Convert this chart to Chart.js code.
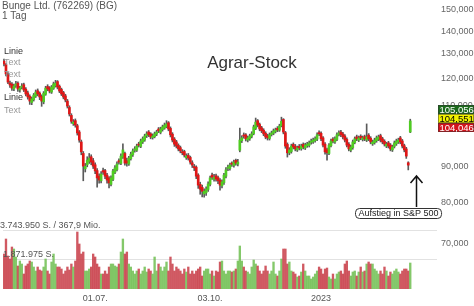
<!DOCTYPE html>
<html>
<head>
<meta charset="utf-8">
<title>Agrar-Stock</title>
<script src="https://cdn.jsdelivr.net/npm/chart.js@4/dist/chart.umd.min.js"></script>
<style>
  html, body { margin: 0; padding: 0; background: #fff; }
  #wrap { width: 474px; height: 306px; position: relative; }
</style>
</head>
<body>
<div id="wrap"><canvas id="chart" width="474" height="306"></canvas></div>
<script>
// daily candles, Bunge Ltd. (BG)
const opens = [
  127.0,125.5,121.5,118.2,117.8,116.0,117.3,118.2,115.6,116.6,
  117.6,115.9,114.5,113.2,111.0,112.0,113.3,115.3,114.4,113.2,
  111.2,114.0,116.9,116.4,114.8,116.2,117.2,118.8,117.0,115.8,
  114.6,113.4,111.5,109.2,106.4,103.6,104.6,102.9,100.8,97.6,
  94.0,89.4,90.6,91.6,93.0,91.8,90.6,88.9,87.3,86.0,
  88.9,88.9,87.6,86.8,85.0,86.4,88.4,89.2,91.8,91.0,
  92.9,94.0,91.8,90.8,92.4,93.6,95.0,95.0,96.9,96.2,
  97.6,98.2,99.6,100.8,100.2,99.0,99.3,100.1,101.8,100.7,
  101.6,102.1,102.6,103.9,102.0,100.1,98.5,97.6,96.5,95.8,
  94.5,94.6,92.7,93.4,92.8,91.2,90.1,89.9,87.6,85.0,
  84.2,82.4,82.7,83.6,85.0,87.6,86.4,87.4,86.9,86.1,
  84.6,85.5,87.3,89.6,89.5,90.9,90.4,91.9,90.8,95.0,
  98.0,99.8,99.9,98.2,98.6,99.4,100.3,102.0,104.6,103.3,
  102.2,101.4,100.4,99.6,98.7,100.0,100.4,101.0,102.0,101.4,
  102.9,105.0,100.6,96.8,94.2,94.6,96.8,96.2,95.1,96.2,
  95.5,96.8,95.7,96.4,96.5,97.5,97.6,98.0,98.5,100.6,
  100.4,98.9,96.9,95.2,94.0,96.4,98.5,97.6,98.4,100.0,
  100.8,100.2,99.5,98.4,96.9,95.0,95.8,97.4,99.2,98.2,
  99.4,98.4,99.3,98.2,99.8,98.8,97.0,97.4,98.0,98.5,
  99.6,98.6,97.8,96.3,97.3,96.6,95.1,96.2,97.0,97.6,
  98.9,97.9,96.4,95.4,91.2,100.8
];
const highs = [
  127.8,126.0,122.3,119.0,118.4,117.8,118.9,118.7,117.0,118.0,
  118.2,116.5,115.2,113.8,113.0,114.3,115.6,116.0,114.9,113.8,
  115.0,117.0,117.6,116.9,117.3,118.6,119.3,119.2,117.5,116.3,
  115.1,114.0,112.1,109.8,107.0,105.0,105.2,103.4,101.3,98.2,
  94.6,91.0,93.0,94.0,93.6,92.5,91.2,89.5,88.0,88.6,
  89.6,89.3,88.1,87.2,87.4,89.3,90.4,91.5,92.4,93.9,
  97.0,94.4,92.6,93.1,94.4,95.4,96.1,96.9,97.5,98.5,
  99.2,100.1,100.9,101.3,100.6,100.2,100.8,101.4,102.3,102.4,
  103.1,103.8,104.6,104.3,102.5,100.6,99.0,98.1,97.0,96.3,
  95.2,95.0,93.9,94.0,93.2,91.8,90.7,90.3,88.0,85.6,
  84.8,83.8,84.3,85.7,87.3,88.2,87.8,87.9,87.3,86.6,
  86.3,88.1,89.8,90.5,91.1,91.5,92.0,92.3,92.2,102.1,
  99.6,100.5,100.3,99.5,100.1,100.9,103.1,105.5,105.0,103.8,
  102.7,101.9,100.9,100.1,100.5,101.1,101.8,102.1,102.6,103.4,
  105.8,105.3,101.0,97.3,95.8,96.9,97.3,96.8,96.3,96.8,
  96.9,97.3,97.2,97.5,97.9,98.5,98.8,99.2,100.5,101.2,
  100.9,99.3,97.4,95.7,97.1,98.5,99.0,99.2,100.5,101.2,
  101.4,100.7,100.0,98.9,97.4,96.6,98.2,99.2,99.8,99.5,
  99.9,99.5,99.8,103.5,100.3,99.3,98.2,98.8,99.5,99.8,
  100.1,99.1,98.3,97.5,97.8,97.1,96.6,97.9,98.5,98.8,
  99.4,98.4,96.9,95.9,91.5,105.1
];
const lows = [
  125.0,121.0,118.0,116.6,115.4,115.3,116.6,115.1,114.8,116.0,
  115.0,113.4,112.2,110.3,110.2,111.5,112.8,113.4,112.0,109.6,
  110.5,113.6,115.3,114.5,114.3,115.8,116.7,116.0,114.6,113.5,
  112.3,111.2,109.0,106.2,103.7,103.0,102.4,99.8,97.5,93.6,
  86.0,88.5,90.0,91.0,90.6,89.5,88.0,84.2,85.3,85.4,
  87.8,86.6,85.3,84.0,84.6,86.0,88.0,88.8,90.8,90.6,
  92.5,90.5,90.2,90.4,92.0,93.1,94.4,94.6,96.0,95.8,
  97.1,97.8,99.0,99.3,98.6,98.5,98.9,99.6,100.6,100.2,
  101.1,101.7,102.2,101.2,99.2,97.6,96.2,95.7,94.8,94.2,
  93.6,92.9,92.2,92.0,90.8,89.8,88.9,86.6,83.9,82.3,
  81.6,81.5,82.0,83.1,84.6,86.4,85.9,85.9,85.2,83.4,
  84.0,85.0,86.8,88.9,89.0,90.1,89.9,90.5,90.3,94.5,
  97.4,98.8,97.9,97.6,98.1,98.9,99.9,101.6,102.5,101.2,
  100.6,99.6,98.6,98.2,98.2,99.5,99.9,100.5,100.9,101.0,
  102.5,100.2,95.6,92.9,93.6,94.1,95.4,94.8,94.6,95.1,
  95.0,95.4,95.2,95.9,96.0,96.9,97.1,97.5,98.0,99.6,
  98.0,96.0,93.8,92.0,93.6,96.0,97.3,97.1,98.0,99.5,
  99.3,98.6,97.6,96.0,94.8,94.5,95.3,97.0,98.0,97.7,
  98.3,97.9,98.0,97.7,98.0,97.0,96.5,96.9,97.5,98.0,
  97.6,97.0,96.3,95.8,95.7,94.8,94.6,95.7,96.5,97.1,
  97.0,95.7,94.5,92.5,89.1,100.6
];
const closes = [
  125.8,121.8,118.6,117.5,116.3,117.1,117.9,116.0,116.3,117.1,
  115.6,114.1,113.0,111.5,112.3,113.7,114.8,114.1,113.0,111.5,
  114.4,116.3,116.0,115.2,116.7,117.9,118.2,116.7,115.2,114.1,
  113.0,111.9,109.7,106.9,104.4,104.1,103.1,100.5,98.2,94.5,
  90.2,90.2,92.0,92.6,91.4,90.2,88.8,86.8,86.2,87.9,
  88.5,87.3,86.2,85.4,86.8,88.8,89.7,90.8,91.4,93.2,
  95.1,91.1,91.1,92.6,93.8,94.8,95.4,96.3,96.6,97.9,
  98.6,99.5,100.2,99.9,99.2,99.5,100.2,100.8,101.2,101.8,
  102.5,103.1,103.5,101.8,99.9,98.2,96.9,96.3,95.4,94.8,
  94.2,93.5,93.2,92.6,91.4,90.5,89.7,87.3,84.8,83.7,
  83.1,83.1,83.7,85.1,86.8,87.0,87.0,86.5,86.0,84.8,
  85.7,87.6,89.1,89.9,90.5,90.8,91.4,91.1,91.4,98.2,
  98.9,99.5,98.6,98.9,99.5,100.2,102.5,104.1,103.1,101.8,
  101.2,100.2,99.2,98.9,99.9,100.5,101.2,101.5,101.5,102.8,
  104.4,100.8,96.3,94.2,95.1,96.3,96.0,95.4,95.7,95.7,
  96.3,96.0,96.6,96.9,97.3,97.9,98.2,98.6,99.9,100.2,
  98.6,96.6,94.5,94.2,96.6,97.9,97.9,98.6,99.9,100.5,
  99.9,99.2,98.2,96.6,95.4,96.0,97.6,98.6,98.6,98.9,
  98.9,98.9,98.6,99.2,98.6,97.6,97.6,98.2,98.9,99.2,
  98.2,97.6,96.9,96.9,96.3,95.4,96.0,97.3,97.9,98.2,
  97.6,96.3,95.1,93.2,90.5,104.5
];
// volume in thousand shares
const volumes = [
  2259,3228,2130,1937,2711,2582,2066,1485,1807,1614,
  968,1485,1614,1807,1743,1420,1162,1420,1226,1162,
  1420,1937,1162,968,1743,2259,1614,1420,1420,1291,
  968,1162,1420,1226,1614,1420,1807,3679,2905,2259,
  2388,1162,1162,1291,1420,2259,2066,1614,1420,968,
  968,1162,968,1420,1614,1614,1485,1420,1614,2388,
  3228,2259,2388,1614,1420,1162,968,1162,1291,968,
  1162,1420,1097,1291,1162,968,2066,1162,1614,1420,
  1162,1420,1743,1162,2066,1614,1162,1420,1291,1162,
  968,1291,1097,1420,968,1162,968,1162,1291,1420,
  839,1162,1291,1291,968,1162,839,1162,1097,1743,
  1807,1162,968,1162,1162,1097,1162,1291,1807,2776,
  1807,1420,1162,1097,968,1420,1872,1614,1485,1162,
  968,1162,1485,1162,968,1162,1743,968,839,1162,
  1937,2582,2582,1614,1743,1162,1097,968,775,839,
  1097,1614,1162,839,839,646,775,968,1162,1420,
  1291,968,1291,1356,775,646,968,646,968,1097,
  1162,968,1614,1807,1162,839,1097,1162,839,1097,
  1420,1097,1162,1614,1743,1614,1614,1291,1162,968,
  1162,968,1420,1162,839,1097,968,1162,1291,1097,
  968,1162,1291,1291,1162,1678
];

const priceTicks = [70, 80, 90, 110, 120, 130, 140, 150];
const volumeTicks = [1871.975, 3743.95];
const volumeTickText = ['1.871.975 S.', '3.743.950 S. / 367,9 Mio.'];
const xTickIndex = [46, 104, 160];
const xTickText = ['01.07.', '03.10.', '2023'];
const quoteText = ['105,056', '104,551', '104,046'];
const slotCount = 219;

const FONT = '"Liberation Sans", Arial, sans-serif';
const days = Array.from({ length: slotCount }, (_, i) => i);
const isUp = closes.map((c, i) => c >= opens[i]);

const overlay = {
  id: 'overlay',
  afterDraw(chart) {
    const ctx = chart.ctx;
    const xs = chart.scales.x;
    const yv = chart.scales.yv;
    ctx.save();

    ctx.fillStyle = '#555';
    ctx.font = '10px ' + FONT;
    ctx.textBaseline = 'top';
    ctx.textAlign = 'left';
    ctx.fillText('Bunge Ltd. (762269) (BG)', 2, 1);
    ctx.fillText('1 Tag', 2, 11);

    // legend leftovers at the left edge
    ctx.font = '9px ' + FONT;
    ctx.textBaseline = 'middle';
    [['Linie', 52, '#333'], ['Text', 63, '#999'], ['Text', 75, '#999'],
     ['Linie', 98, '#333'], ['Text', 111, '#999']].forEach(([t, y, c]) => {
      ctx.fillStyle = c;
      ctx.fillText(t, 4, y);
    });

    ctx.fillStyle = '#333';
    ctx.font = '17px ' + FONT;
    ctx.textAlign = 'center';
    ctx.fillText('Agrar-Stock', 252, 63);

    // volume grid labels
    ctx.font = '9px ' + FONT;
    ctx.textAlign = 'left';
    ctx.textBaseline = 'bottom';
    ctx.fillStyle = '#555';
    volumeTicks.forEach((v, i) => {
      ctx.fillText(volumeTickText[i], i === 0 ? 3 : 0, yv.getPixelForValue(v) - 1);
    });

    // quote boxes on the price axis
    const boxX = chart.chartArea.right + 1;
    const boxW = chart.width - boxX;
    const fills = ['#1d6b1d', '#f2f200', '#d3141c'];
    const inks = ['#fff', '#000', '#fff'];
    ctx.font = '9.5px ' + FONT;
    ctx.textBaseline = 'middle';
    quoteText.forEach((t, i) => {
      const top = 105 + i * 9;
      ctx.fillStyle = fills[i];
      ctx.fillRect(boxX, top, boxW, 9);
      ctx.strokeStyle = '#333';
      ctx.lineWidth = 0.5;
      ctx.strokeRect(boxX + 0.5, top + 0.5, boxW - 1, 8);
      ctx.fillStyle = inks[i];
      ctx.fillText(t, boxX + 1.5, top + 5);
    });

    // S&P 500 arrow and label
    const ax = Math.round(xs.getPixelForValue(closes.length - 1)) + 6.5;
    ctx.strokeStyle = '#111';
    ctx.lineWidth = 1.5;
    ctx.beginPath();
    ctx.moveTo(ax, 207);
    ctx.lineTo(ax, 176);
    ctx.moveTo(ax - 6, 183);
    ctx.lineTo(ax, 176);
    ctx.lineTo(ax + 6, 183);
    ctx.stroke();

    const label = 'Aufstieg in S&P 500';
    ctx.font = '9px ' + FONT;
    const lw = ctx.measureText(label).width + 6;
    const lx = 355, ly = 208, lh = 10;
    ctx.fillStyle = '#fff';
    ctx.strokeStyle = '#333';
    ctx.lineWidth = 1;
    ctx.beginPath();
    ctx.roundRect(lx + 0.5, ly + 0.5, lw, lh, 4);
    ctx.fill();
    ctx.stroke();
    ctx.fillStyle = '#222';
    ctx.textAlign = 'center';
    ctx.textBaseline = 'middle';
    ctx.fillText(label, lx + 0.5 + lw / 2, ly + lh / 2 + 1);

    ctx.restore();
  }
};

new Chart(document.getElementById('chart'), {
  type: 'bar',
  data: {
    labels: days,
    datasets: [
      {
        label: 'Kurs',
        data: opens.map((o, i) => [o, closes[i]]),
        yAxisID: 'y',
        grouped: false,
        order: 0,
        barThickness: 2,
        minBarLength: 1,
        backgroundColor: isUp.map(u => u ? '#4fcc22' : '#e01616'),
        borderWidth: 0
      },
      {
        label: 'Spanne',
        data: lows.map((l, i) => [l, highs[i]]),
        yAxisID: 'y',
        grouped: false,
        order: 1,
        barThickness: 1,
        backgroundColor: '#5a5a5a',
        borderWidth: 0
      },
      {
        label: 'Volumen',
        data: volumes,
        yAxisID: 'yv',
        grouped: false,
        order: 2,
        barThickness: 1.7,
        backgroundColor: isUp.map(u => u ? 'rgba(110,190,80,0.85)' : 'rgba(200,60,70,0.85)'),
        borderWidth: 0
      }
    ]
  },
  options: {
    responsive: false,
    animation: false,
    devicePixelRatio: 1,
    layout: { padding: 0 },
    plugins: { legend: { display: false }, tooltip: { enabled: false } },
    scales: {
      x: {
        type: 'category',
        offset: true,
        grid: { display: false, drawTicks: false },
        border: { display: false },
        ticks: {
          autoSkip: false,
          maxRotation: 0,
          padding: 4,
          color: '#555',
          font: { size: 9, family: FONT },
          callback: (v, i) => {
            const k = xTickIndex.indexOf(i);
            return k >= 0 ? xTickText[k] : '';
          }
        },
        afterFit: s => { s.height = 17; }
      },
      y: {
        type: 'logarithmic',
        position: 'right',
        bounds: 'data',
        min: 60.45,
        max: 154.97,
        grid: { display: false, drawTicks: false },
        border: { display: false },
        ticks: {
          padding: 4,
          color: '#666',
          font: { size: 9, family: FONT },
          callback: v => Number(v).toFixed(3).replace('.', ',')
        },
        afterBuildTicks: s => { s.ticks = priceTicks.map(v => ({ value: v })); },
        afterFit: s => { s.width = 37; s.paddingTop = 0; s.paddingBottom = 0; }
      },
      yv: {
        type: 'linear',
        position: 'left',
        bounds: 'data',
        min: 0,
        max: 18655,
        grid: { color: '#e2e2e2', drawTicks: false },
        border: { display: false },
        ticks: { display: false },
        afterBuildTicks: s => { s.ticks = volumeTicks.map(v => ({ value: v })); },
        afterFit: s => { s.width = 0; }
      }
    }
  },
  plugins: [overlay]
});
</script>
</body>
</html>
